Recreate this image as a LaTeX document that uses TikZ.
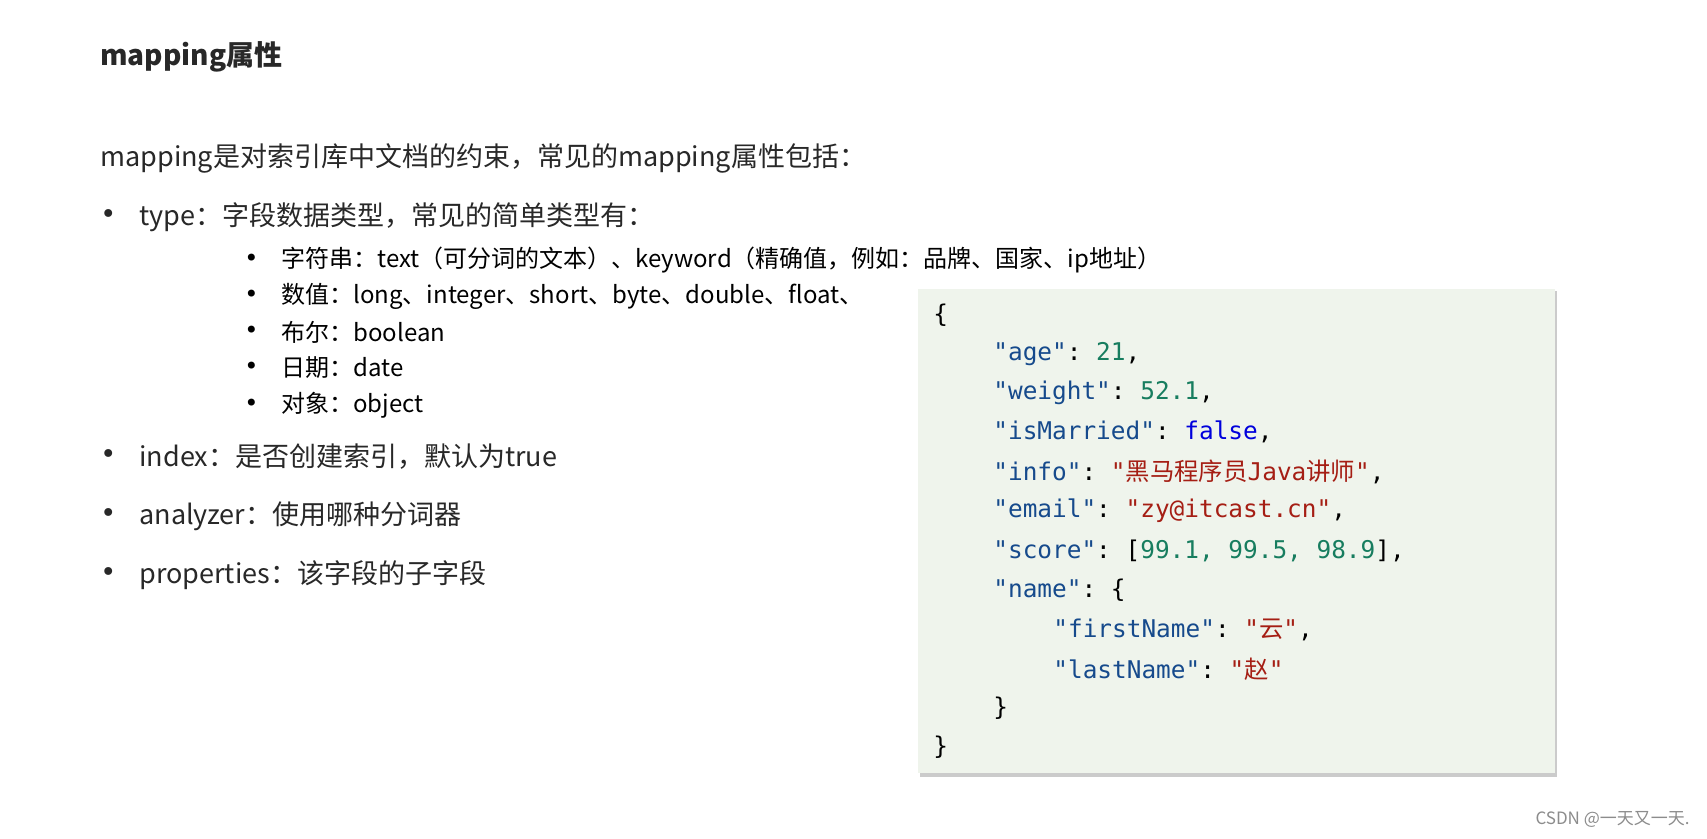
\documentclass[tikz,border=0pt]{standalone}
\usepackage{fontspec}
\setmainfont{Noto Sans CJK SC}
\setmonofont{DejaVu Sans Mono}
\newfontfamily\cjk{Noto Sans CJK SC}
\newfontfamily\dv{DejaVu Sans}
\usetikzlibrary{shadows}
\definecolor{keyc}{RGB}{22,74,140}
\definecolor{numc}{RGB}{23,125,95}
\definecolor{boolc}{RGB}{0,0,220}
\definecolor{strc}{RGB}{165,30,20}
\definecolor{boxbg}{RGB}{239,244,236}
\definecolor{txt}{RGB}{40,40,40}
\newcommand{\K}[1]{\textcolor{keyc}{"#1"}}
\newcommand{\N}[1]{\textcolor{numc}{#1}}
\newcommand{\Sx}[1]{\textcolor{strc}{#1}}
\begin{document}
\begin{tikzpicture}[x=0.5pt,y=-0.5pt,
  body/.style={anchor=west,inner sep=0,font=\fontsize{13.5}{16}\selectfont,text=txt},
  sub/.style={anchor=west,inner sep=0,font=\fontsize{12}{14}\selectfont,text=black},
  code/.style={anchor=west,inner sep=0,font=\ttfamily\fontsize{12.2}{15}\selectfont,text=black}]
\useasboundingbox[fill=white] (0,0) rectangle (1707,839);
\node[body,font=\bfseries\fontsize{14}{16}\selectfont] (title) at (100,57) {mapping属性};
\node[body] (intro) at (100,158) {mapping是对索引库中文档的约束，常见的mapping属性包括：};
\foreach \y/\t [count=\i] in {217/type：字段数据类型，常见的简单类型有：,457/index：是否创建索引，默认为true,516/analyzer：使用哪种分词器,575/properties：该字段的子字段}{
  \node[body] (b\i) at (100,\y) {\dv •};
  \node[body] (t\i) at (139,\y) {\t};
}
\foreach \y/\t [count=\i] in {260/{字符串：text（可分词的文本）、keyword（精确值，例如：品牌、国家、ip地址）},296/{数值：long、integer、short、byte、double、float、},332/布尔：boolean,368/日期：date,405/对象：object}{
  \node[sub] (sb\i) at (244,\y) {\dv •};
  \node[sub] (st\i) at (281,\y) {\t};
}
\fill[black!40,opacity=0.5] (920,291) rectangle (1557,777);
\fill[boxbg] (918,289) rectangle (1555,773);
\coordinate (box) at (918,289);
\node[code] (c1) at (933,315) {\{};
\node[code] (c2) at (993,354) {\K{age}: \N{21},};
\node[code] (c3) at (993,393) {\K{weight}: \N{52.1},};
\node[code] (c4) at (993,432) {\K{isMarried}: \textcolor{boolc}{false},};
\node[code] (c5) at (993,472) {\K{info}: \Sx{"{\cjk 黑马程序员}Java{\cjk 讲师}"},};
\node[code] (c6) at (993,511) {\K{email}: \Sx{"zy@itcast.cn"},};
\node[code] (c7) at (993,551) {\K{score}: [\N{99.1, 99.5, 98.9}],};
\node[code] (c8) at (993,590) {\K{name}: \{};
\node[code] (c9) at (1053,630) {\K{firstName}: \Sx{"{\cjk 云}"},};
\node[code] (c10) at (1053,669) {\K{lastName}: \Sx{"{\cjk 赵}"}};
\node[code] (c11) at (993,708) {\}};
\node[code] (c12) at (933,747) {\}};
\node[anchor=east,inner sep=0,font=\fontsize{8.5}{10}\selectfont,text=black!45] (wm) at (1690,819) {CSDN @一天又一天.};
\end{tikzpicture}
\end{document}
